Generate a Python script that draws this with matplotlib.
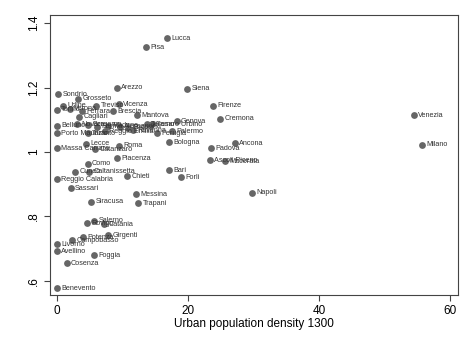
import matplotlib
matplotlib.use("Agg")
import matplotlib.pyplot as plt

plt.rcParams["font.family"] = ["Liberation Sans", "DejaVu Sans"]

# city labels, urban density 1300 (x) and ratio (y)
cities = ["Lucca", "Pisa", "Arezzo", "Siena", "Firenze", "Cremona", "Venezia", "Milano",
          "Napoli", "Sondrio", "Grosseto", "Udine", "Torino", "Verona", "Ferrara", "Treviso",
          "Vicenza", "Brescia", "Mantova", "Cagliari", "Novara", "Belluno", "Bergamo", "Parma",
          "Modena", "Alessandria", "Pistoia", "Porto Maurizio", "Taranto", "Reggio Emilia",
          "Ravenna", "Teramo", "Pesaro Urbino", "Perugia", "Genova", "Palermo", "Bologna",
          "Padova", "Ancona", "Ascoli Piceno", "Macerata", "Roma", "Lecce", "Catanzaro",
          "Massa Carrara", "Piacenza", "Como", "Cuneo", "Caltanissetta", "Chieti",
          "Reggio Calabria", "Sassari", "Bari", "Forli", "Messina", "Trapani", "Siracusa",
          "Rovigo", "Salerno", "Catania", "Potenza", "Girgenti", "Campobasso", "Livorno",
          "Avellino", "Foggia", "Cosenza", "Benevento"]
density = [16.8, 13.6, 9.2, 19.9, 23.8, 24.9, 54.5, 55.7,
           29.8, 0.2, 3.2, 0.9, 0.0, 2.0, 3.8, 6.0,
           9.5, 8.6, 12.2, 3.4, 3.1, 0.0, 4.7, 6.1,
           7.8, 9.6, 10.8, 0.0, 4.7, 7.3,
           11.6, 13.7, 14.5, 15.3, 18.3, 17.6, 17.1,
           23.5, 27.2, 23.4, 25.7, 9.5, 4.4, 5.8,
           0.0, 9.2, 4.7, 2.8, 4.9, 10.7,
           0.0, 2.1, 17.1, 18.9, 12.1, 12.4, 5.2,
           4.6, 5.7, 7.2, 4.0, 7.8, 2.3, 0.0,
           0.0, 5.7, 1.5, 0.0]
ratio = [1.354, 1.326, 1.199, 1.196, 1.143, 1.103, 1.115, 1.022,
         0.873, 1.180, 1.165, 1.143, 1.131, 1.134, 1.127, 1.143,
         1.149, 1.127, 1.115, 1.109, 1.087, 1.081, 1.084, 1.078,
         1.081, 1.078, 1.075, 1.059, 1.059, 1.065,
         1.068, 1.087, 1.087, 1.059, 1.096, 1.065, 1.031,
         1.012, 1.028, 0.975, 0.972, 1.019, 1.025, 1.009,
         1.012, 0.981, 0.963, 0.938, 0.938, 0.925,
         0.916, 0.888, 0.944, 0.922, 0.869, 0.841, 0.845,
         0.779, 0.786, 0.776, 0.736, 0.742, 0.726, 0.714,
         0.692, 0.680, 0.655, 0.577]

fig = plt.figure(figsize=(4.74, 3.46), dpi=100)
ax = fig.add_axes([0.1055, 0.147, 0.8605, 0.81])

ax.scatter(density, ratio, s=24, color="#666666", zorder=3, linewidths=0)
for name, x, y in zip(cities, density, ratio):
    ax.annotate(name, (x, y), xytext=(3, 0), textcoords="offset points",
                va="center", ha="left", fontsize=5.2, color="#333333")

ax.set_xlim(-1.07, 61.2)
ax.set_ylim(0.5555, 1.426)
ax.set_xticks([0, 20, 40, 60])
ax.set_yticks([0.6, 0.8, 1.0, 1.2, 1.4])
ax.set_yticklabels([".6", ".8", "1", "1.2", "1.4"], rotation=90, va="center")
ax.tick_params(labelsize=8.5, length=4, width=0.8, color="#444444", pad=3)
ax.set_xlabel("Urban population density 1300", fontsize=8.5, labelpad=1)
for sp in ax.spines.values():
    sp.set_color("#444444")
    sp.set_linewidth(0.8)

fig.savefig("out.png", dpi=100)
